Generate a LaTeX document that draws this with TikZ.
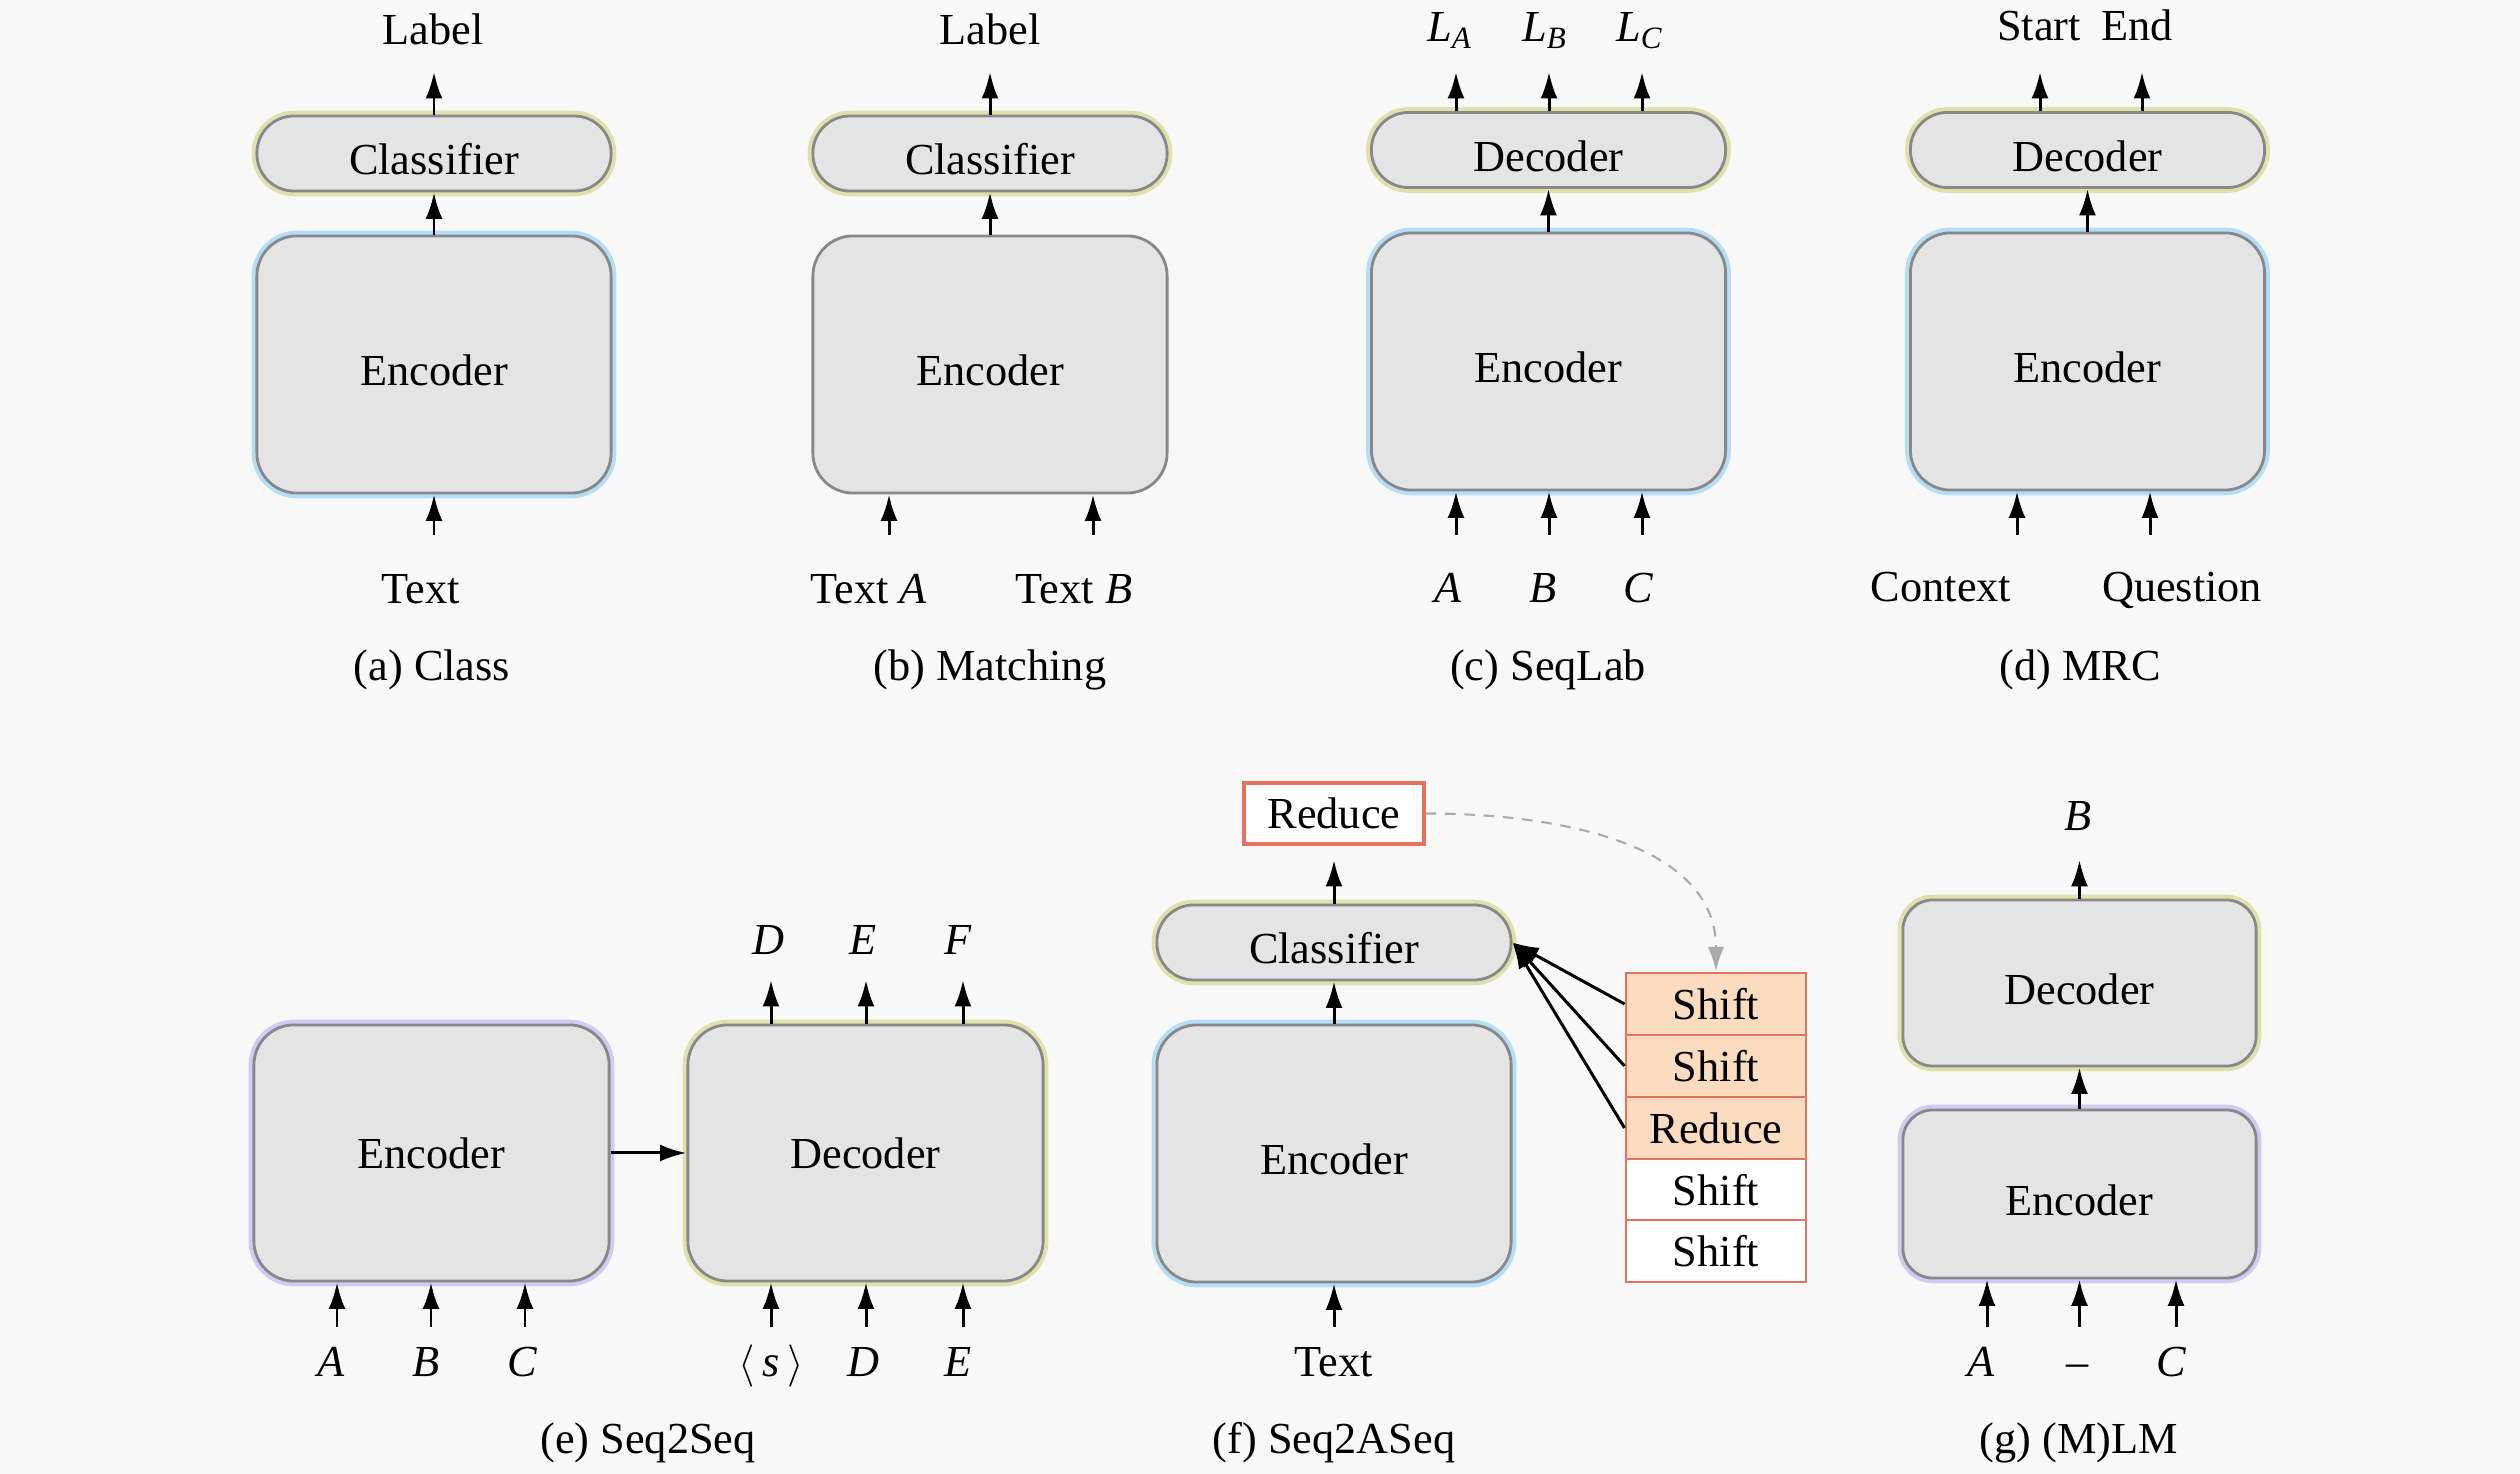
\documentclass[tikz,border=0pt]{standalone}
\usepackage{fontspec}
\setmainfont{Liberation Serif}
\usetikzlibrary{arrows.meta}
\newcommand\figfont{\fontsize{12.6pt}{15pt}\selectfont}
\definecolor{bg}{HTML}{F8F8F8}
\definecolor{boxfill}{HTML}{E4E4E4}
\definecolor{bordgray}{HTML}{888888}
\definecolor{haloblue}{HTML}{B4DDF7}
\definecolor{haloyel}{HTML}{E0E0AC}
\definecolor{halopur}{HTML}{D2CAF2}
\definecolor{peach}{HTML}{FCDCC0}
\definecolor{redline}{HTML}{E3735E}
\definecolor{dashgray}{HTML}{AAAAAA}
\tikzset{
  box/.style={draw=bordgray, fill=boxfill, line width=0.8pt, inner sep=0pt, font=\figfont, text height=12.2pt, text depth=0pt},
  hblue/.style={preaction={draw=haloblue, line width=3pt}},
  hyel/.style={preaction={draw=haloyel, line width=3pt}},
  hpur/.style={preaction={draw=halopur, line width=3pt}},
  bigbox/.style={box, minimum width=3.54cm, minimum height=2.57cm, rounded corners=0.4cm},
  pill/.style={box, minimum width=3.54cm, minimum height=0.75cm, rounded corners=0.37cm},
  txt/.style={inner sep=0pt, font=\figfont, anchor=base},
  arr/.style={line width=0.85pt, -{Latex[length=7.5pt,width=4.8pt]}},
  dasharr/.style={line width=0.6pt, draw=dashgray, dash pattern=on 3pt off 2.5pt, -{Latex[length=7pt,width=4.6pt]}},
  stackrow/.style={draw=redline, line width=0.8pt, inner sep=0pt, minimum width=1.8cm, minimum height=0.62cm, font=\figfont},
}
\begin{document}
\begin{tikzpicture}[x=0.01cm, y=-0.01cm]
\fill[bg] (0,0) rectangle (2520,1474);
\useasboundingbox (0,0) rectangle (2520,1474);

% ---------- (a) Class ----------
\node[pill, hyel] (acls) at (434,153.5) {Classifier};
\node[bigbox, hblue] (aenc) at (434,364.5) {Encoder};
\node[txt] (alab) at (433,45) {Label};
\coordinate (aout) at (434,72);
\draw[arr] (acls.north) -- (aout);
\draw[arr] (aenc.north) -- (acls.south);
\coordinate (ain) at (434,535);
\draw[arr] (ain) -- (ain |- aenc.south);
\node[txt] (atext) at (421,604) {Text};
\node[txt] (acap) at (432,681) {(a) Class};

% ---------- (b) Matching ----------
\node[pill, hyel] (bcls) at (990,153.5) {Classifier};
\node[bigbox] (benc) at (990,364.5) {Encoder};
\node[txt] (blab) at (990,45) {Label};
\coordinate (bout) at (990,72);
\draw[arr] (bcls.north) -- (bout);
\draw[arr] (benc.north) -- (bcls.south);
\coordinate (bin1) at (889,535);
\coordinate (bin2) at (1093,535);
\draw[arr] (bin1) -- (bin1 |- benc.south);
\draw[arr] (bin2) -- (bin2 |- benc.south);
\node[txt] (btexta) at (869,604) {Text \textit{A}};
\node[txt] (btextb) at (1074,604) {Text \textit{B}};
\node[txt] (bcap) at (990,681) {(b) Matching};

% ---------- (c) SeqLab ----------
\node[pill, hyel] (cdec) at (1548.5,150) {Decoder};
\node[bigbox, hblue] (cenc) at (1548.5,361.5) {Encoder};
\draw[arr] (cenc.north) -- (cdec.south);
\foreach \x/\n in {1456/1,1549/2,1642/3}{
  \coordinate (cout\n) at (\x,72);
  \draw[arr] (cout\n |- cdec.north) -- (cout\n);
  \coordinate (cin\n) at (\x,535);
  \draw[arr] (cin\n) -- (cin\n |- cenc.south);
}
\node[txt] (cla) at (1450,42) {\textit{L}\textsubscript{\textit{A}}};
\node[txt] (clb) at (1545,42) {\textit{L}\textsubscript{\textit{B}}};
\node[txt] (clc) at (1640,42) {\textit{L}\textsubscript{\textit{C}}};
\node[txt] (cia) at (1448,603) {\textit{A}};
\node[txt] (cib) at (1543,603) {\textit{B}};
\node[txt] (cic) at (1638,603) {\textit{C}};
\node[txt] (ccap) at (1548,681) {(c) SeqLab};

% ---------- (d) MRC ----------
\node[pill, hyel] (ddec) at (2087.5,150) {Decoder};
\node[bigbox, hblue] (denc) at (2087.5,361.5) {Encoder};
\draw[arr] (denc.north) -- (ddec.south);
\coordinate (dout1) at (2040,72);
\coordinate (dout2) at (2142,72);
\draw[arr] (dout1 |- ddec.north) -- (dout1);
\draw[arr] (dout2 |- ddec.north) -- (dout2);
\node[txt] (dstart) at (2039,41) {Start};
\node[txt] (dend) at (2137,41) {End};
\coordinate (din1) at (2017,535);
\coordinate (din2) at (2150,535);
\draw[arr] (din1) -- (din1 |- denc.south);
\draw[arr] (din2) -- (din2 |- denc.south);
\node[txt] (dctx) at (1941,602) {Context};
\node[txt] (dq) at (2182,602) {Question};
\node[txt] (dcap) at (2080,681) {(d) MRC};

% ---------- (e) Seq2Seq ----------
\node[bigbox, minimum width=3.55cm, minimum height=2.56cm, hpur, text height=9pt] (eenc) at (431.5,1153) {Encoder};
\node[bigbox, minimum width=3.55cm, minimum height=2.56cm, hyel, text height=9pt] (edec) at (865.5,1153) {Decoder};
\draw[arr] (eenc.east) -- (edec.west);
\foreach \x/\n in {337/1,431/2,525/3}{
  \coordinate (ein\n) at (\x,1327);
  \draw[arr] (ein\n) -- (ein\n |- eenc.south);
}
\foreach \x/\n in {771/1,866/2,963/3}{
  \coordinate (edin\n) at (\x,1327);
  \draw[arr] (edin\n) -- (edin\n |- edec.south);
  \coordinate (eout\n) at (\x,980);
  \draw[arr] (eout\n |- edec.north) -- (eout\n);
}
\node[txt] (eod) at (768,955) {\textit{D}};
\node[txt] (eoe) at (863,955) {\textit{E}};
\node[txt] (eof) at (958,955) {\textit{F}};
\node[txt] (eia) at (331,1377) {\textit{A}};
\node[txt] (eib) at (426,1377) {\textit{B}};
\node[txt] (eic) at (522,1377) {\textit{C}};
\node[txt] (eis) at (771,1377) {$\langle$\,\textit{s}\,$\rangle$};
\node[txt] (eid) at (863,1377) {\textit{D}};
\node[txt] (eie) at (958,1377) {\textit{E}};
\node[txt] (ecap) at (648,1454) {(e) Seq2Seq};

% ---------- (f) Seq2ASeq ----------
\node[pill, hyel] (fcls) at (1334,942.5) {Classifier};
\node[bigbox, hblue] (fenc) at (1334,1153.5) {Encoder};
\draw[arr] (fenc.north) -- (fcls.south);
\node[draw=redline, fill=white, line width=0.9pt, inner sep=0pt, minimum width=1.8cm, minimum height=0.61cm, font=\figfont] (fred) at (1334,813.5) {Reduce};
\coordinate (fout) at (1334,860);
\draw[arr] (fcls.north) -- (fout);
\node[stackrow, fill=peach] (s1) at (1716,1004) {Shift};
\node[stackrow, fill=peach] (s2) at (1716,1066) {Shift};
\node[stackrow, fill=peach] (s3) at (1716,1128) {Reduce};
\node[stackrow, fill=white] (s4) at (1716,1190) {Shift};
\node[stackrow, fill=white] (s5) at (1716,1251) {Shift};
\draw[arr] (s1.west) -- (fcls.east);
\draw[arr] (s2.west) -- (fcls.east);
\draw[arr] (s3.west) -- (fcls.east);
\draw[dasharr] (fred.east) to[out=0,in=90] (s1.north);
\coordinate (fin) at (1334,1327);
\draw[arr] (fin) -- (fin |- fenc.south);
\node[txt] (ftext) at (1334,1377) {Text};
\node[txt] (fcap) at (1334,1454) {(f) Seq2ASeq};

% ---------- (g) (M)LM ----------
\node[box, hyel, minimum width=3.53cm, minimum height=1.66cm, rounded corners=0.3cm] (gdec) at (2079.5,983) {Decoder};
\node[box, hpur, minimum width=3.53cm, minimum height=1.68cm, rounded corners=0.3cm] (genc) at (2079.5,1194) {Encoder};
\draw[arr] (genc.north) -- (gdec.south);
\coordinate (gout) at (2079.5,860);
\draw[arr] (gdec.north) -- (gout);
\node[txt] (gb) at (2078,831) {\textit{B}};
\foreach \x/\n in {1987/1,2079.5/2,2176/3}{
  \coordinate (gin\n) at (\x,1327);
  \draw[arr] (gin\n) -- (gin\n |- genc.south);
}
\node[txt] (gia) at (1981,1377) {\textit{A}};
\node[txt] (gib) at (2078,1377) {–};
\node[txt] (gic) at (2171,1377) {\textit{C}};
\node[txt] (gcap) at (2079,1454) {(g) (M)LM};
\end{tikzpicture}
\end{document}
